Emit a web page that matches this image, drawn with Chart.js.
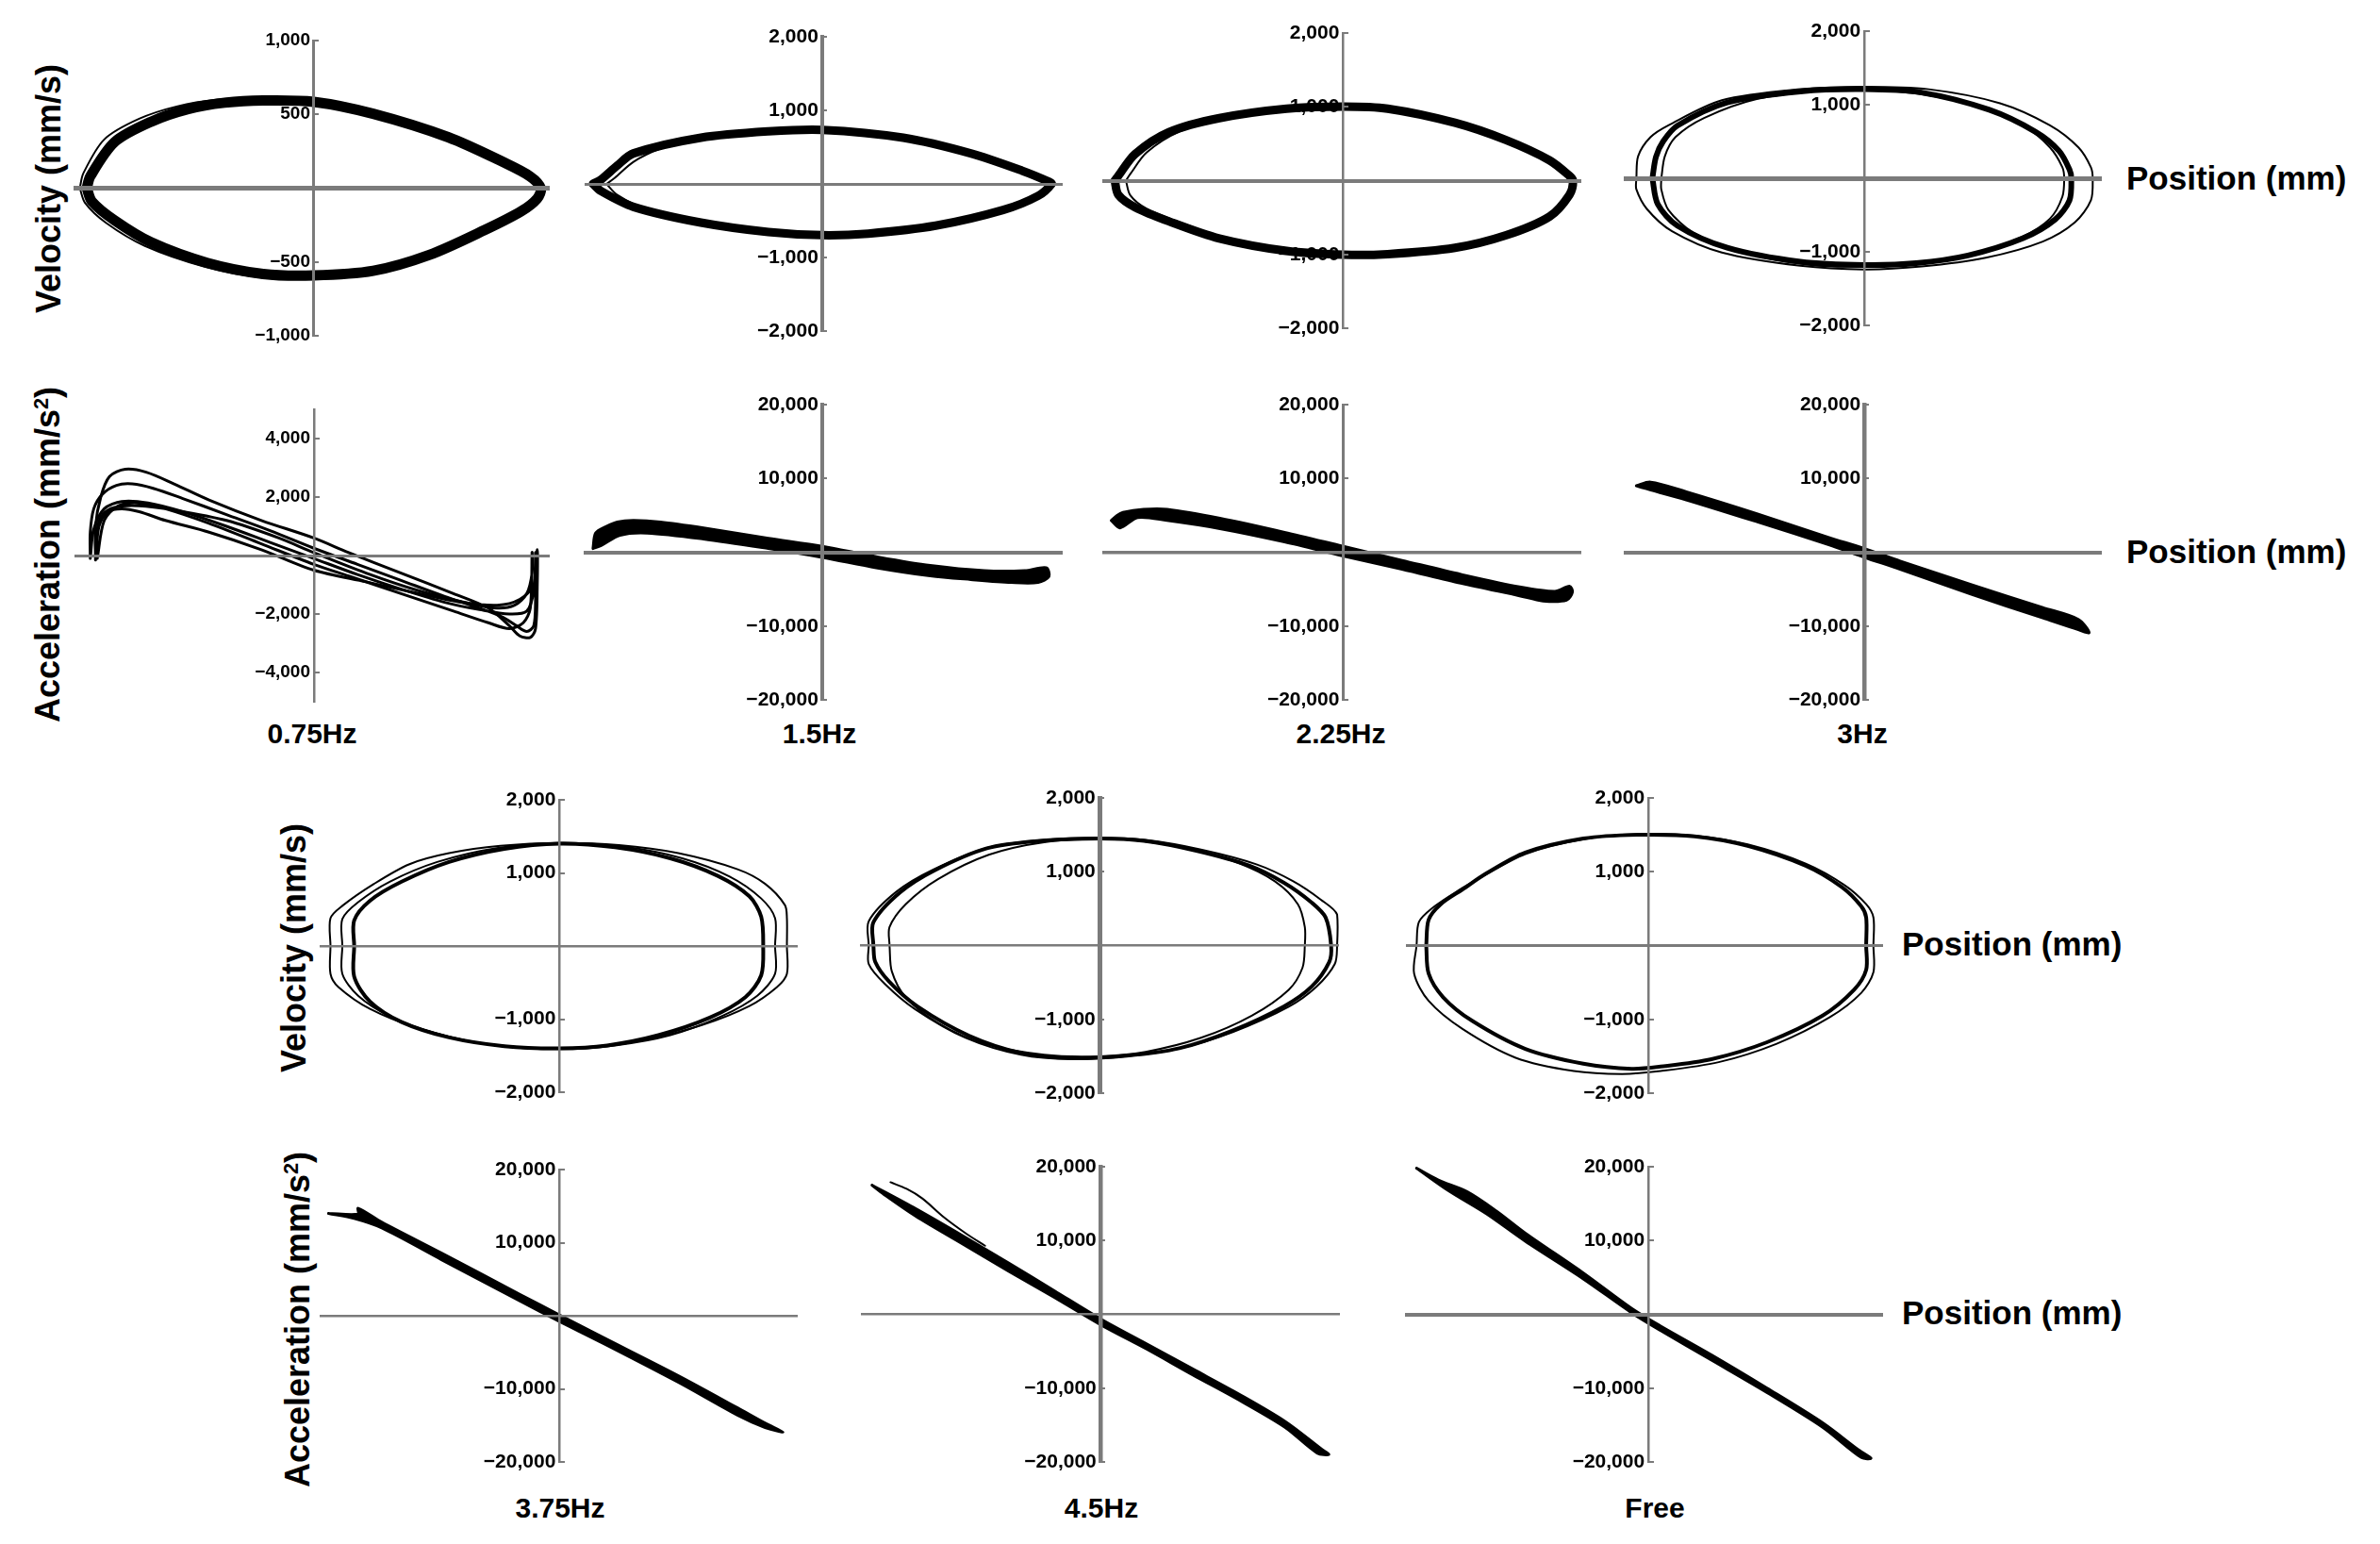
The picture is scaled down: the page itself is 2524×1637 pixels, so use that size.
<!DOCTYPE html>
<html>
<head>
<meta charset="utf-8">
<script src="https://cdn.jsdelivr.net/npm/chart.js@4.4.0/dist/chart.umd.min.js"></script>
<style>
  html, body { margin: 0; padding: 0; background: #fff; }
  body { position: relative; width: 2524px; height: 1637px; overflow: hidden;
         font-family: "Liberation Sans", Arial, sans-serif; }
  canvas { position: absolute; }
  .lbl { position: absolute; font-weight: bold; color: #000; white-space: nowrap; line-height: 1; }
  .ytitle { font-size: 36px; transform: translate(-50%, -50%) rotate(-90deg); }
  .pos { font-size: 35px; transform: translateY(-50%); }
  .freq { font-size: 30px; transform: translate(-50%, -50%); }
  sup { font-size: 60%; vertical-align: 0.55em; }
</style>
</head>
<body>

<div class="lbl ytitle" style="left:52px; top:200px;">Velocity (mm/s)</div>
<div class="lbl ytitle" style="left:51px; top:588px;">Acceleration (mm/s<sup>2</sup>)</div>
<div class="lbl ytitle" style="left:312px; top:1005px;">Velocity (mm/s)</div>
<div class="lbl ytitle" style="left:316px; top:1399px;">Acceleration (mm/s<sup>2</sup>)</div>

<div class="lbl pos" style="left:2255px; top:188px;">Position (mm)</div>
<div class="lbl pos" style="left:2255px; top:584px;">Position (mm)</div>
<div class="lbl pos" style="left:2017px; top:1000px;">Position (mm)</div>
<div class="lbl pos" style="left:2017px; top:1391px;">Position (mm)</div>

<div class="lbl freq" style="left:331px; top:778px;">0.75Hz</div>
<div class="lbl freq" style="left:869px; top:778px;">1.5Hz</div>
<div class="lbl freq" style="left:1422px; top:778px;">2.25Hz</div>
<div class="lbl freq" style="left:1975px; top:778px;">3Hz</div>
<div class="lbl freq" style="left:594px; top:1599px;">3.75Hz</div>
<div class="lbl freq" style="left:1168px; top:1599px;">4.5Hz</div>
<div class="lbl freq" style="left:1755px; top:1599px;">Free</div>

<script>
// ---------------- TICK LABELS ----------------
const velTicks075 = [-1000, -500, 500, 1000];
const accTicks075 = [-4000, -2000, 2000, 4000];
const velTicks = [-2000, -1000, 1000, 2000];
const accTicks = [-20000, -10000, 10000, 20000];

// position axis extent of each column (mm)
const posRange075 = [-136.5, 134.6];
const posRange150 = [-87.75, 88.75];
const posRange225 = [-81.4, 80.7];
const posRange300 = [-67, 66.3];
const posRange375 = [-60.5, 60];
const posRange450 = [-51.7, 51.7];
const posRangeFree = [-50, 48.3];

// ---------------- 0.75 Hz ----------------
const pos075VelA = [-130, -128, -114, -93, -72, -51, -29, 0, 34, 77, 109, 124, 130, 128, 119, 98, 66, 34, 0, -29, -61, -93, -114, -127, -130];
const vel075A = [0, 80, 313, 451, 536, 579, 594, 585, 504, 345, 174, 79, 0, -70, -155, -283, -453, -560, -591, -581, -506, -368, -219, -91, 0];
const pos075VelB = [-134, -132, -120, -100, -78, -55, -30, 0, 34, 77, 108, 123, 128, 126, 117, 96, 64, 32, 0, -30, -63, -97, -119, -131, -134];
const vel075B = [0, 100, 330, 470, 555, 600, 615, 605, 520, 360, 185, 85, 0, -80, -170, -300, -470, -580, -615, -605, -530, -390, -235, -100, 0];

const pos075AccA = [-128, -128, -126, -121, -113, -104, -92, -75, -50, -25, 0, 25, 50, 75, 95, 108, 116, 122, 126, 127, 127, 126, 122, 112, 95, 75, 50, 25, 0, -25, -50, -75, -95, -110, -120, -126, -128];
const acc075A = [-100, 800, 1600, 2100, 2400, 2450, 2300, 1950, 1400, 850, 250, -300, -850, -1400, -1800, -2100, -2400, -2600, -2400, -1500, 100, -1200, -1900, -2000, -1850, -1600, -1150, -650, -100, 450, 1000, 1500, 1800, 1850, 1600, 900, -100];
const pos075AccB = [-125, -125, -122, -117, -108, -96, -80, -60, -30, 0, 20, 50, 80, 100, 112, 118, 124, 127, 128, 128, 126, 118, 105, 85, 60, 30, 0, -30, -60, -85, -100, -110, -118, -123, -125];
const acc075B = [-150, 1000, 2000, 2700, 2950, 2850, 2450, 1900, 1200, 600, 100, -600, -1300, -1800, -2400, -2750, -2800, -2500, -1000, 200, -1000, -1500, -1700, -1600, -1300, -900, -500, 200, 800, 1200, 1500, 1600, 1500, 1000, -150];
const pos075AccC = [-124, -124, -121, -114, -100, -80, -50, -20, 0, 30, 60, 90, 105, 115, 122, 125, 125, 124, 120, 112, 100, 80, 50, 20, 0, -30, -60, -85, -100, -112, -120, -124];
const acc075C = [-100, 900, 1400, 1650, 1700, 1550, 1200, 600, 100, -600, -1200, -1650, -1800, -1700, -1300, -600, 100, -1800, -2300, -2500, -2300, -1900, -1300, -700, -300, 400, 1100, 1600, 1800, 1700, 1200, -100];

// ---------------- 1.5 Hz ----------------
const pos150VelA = [-85, -82, -76, -70, -45, -20, 0, 30, 55, 74, 84, 85, 80, 67, 42, 17, 0, -20, -45, -70, -82, -85];
const vel150A = [0, 60, 250, 415, 628, 714, 735, 628, 415, 180, 30, 0, -162, -355, -568, -675, -697, -654, -526, -312, -98, 0];
const pos150VelB = [-80, -77, -70, -60, -45, -20, 0, 30, 55, 74, 84, 85, 80, 67, 42, 17, 0, -20, -45, -65, -76, -80];
const vel150B = [0, 80, 300, 480, 640, 730, 745, 640, 420, 180, 30, 0, -170, -370, -585, -690, -710, -665, -530, -350, -150, 0];

const pos150Acc = [-85, -84, -80, -76, -70, -60, -44, -20, 0, 20, 40, 60, 75, 83, 84, 80, 70, 55, 40, 20, 0, -20, -44, -65, -75, -82, -85];
const acc150 = [500, 2600, 3500, 4100, 4300, 4100, 3300, 1900, 800, -600, -1800, -2500, -2500, -2100, -3300, -4100, -4100, -3700, -3200, -2100, -700, 500, 1800, 2600, 2300, 900, 500];

// ---------------- 2.25 Hz ----------------
const pos225VelA = [-77.8, -76.6, -70.9, -59.4, -42.2, -19.3, 0, 15.1, 38, 55.3, 70.2, 77, 78.2, 77, 70.2, 55.3, 38, 15.1, 0, -19.3, -42.2, -59.4, -70.9, -76.6, -77.8];
const vel225A = [0, 64, 360, 657, 847, 975, 1004, 975, 784, 551, 275, 64, 0, -191, -487, -742, -911, -996, -1004, -953, -784, -551, -360, -191, 0];
const pos225VelB = [-74, -72.5, -67, -56, -40, -18, 0, 15, 38, 55, 70, 76.5, 77.5, 76.5, 70, 55, 38, 15, 0, -18, -40, -56, -67, -72.5, -74];
const vel225B = [0, 90, 380, 660, 850, 975, 1000, 970, 780, 545, 270, 60, 0, -180, -480, -735, -905, -990, -1000, -950, -780, -560, -380, -200, 0];

const pos225Acc = [-79, -77, -75, -68, -60, -42, -20, 0, 20, 40, 60, 72, 77, 78, 76, 68, 60, 40, 20, 0, -20, -42, -60, -70, -76, -79];
const acc225 = [4300, 5000, 5400, 5800, 5800, 4600, 2700, 800, -1100, -3000, -4700, -5300, -4600, -5400, -6500, -6600, -5900, -4200, -2300, -500, 1400, 3200, 4300, 4700, 3300, 4300];

// ---------------- 3 Hz ----------------
const pos300VelA = [-59.5, -58.5, -56.5, -52.5, -38.5, -18, 0, 16, 35, 48, 54.5, 57.5, 58, 57.5, 53.5, 44.5, 29, 14.5, 0, -18, -38.5, -52.5, -58, -59.5];
const vel300A = [0, 290, 500, 715, 1030, 1180, 1210, 1165, 930, 630, 375, 120, 0, -300, -560, -815, -1050, -1155, -1180, -1135, -945, -645, -350, 0];
const pos300VelB = [-64, -63.5, -60, -55, -40, -18, 0, 18, 38, 52, 60, 63.5, 64, 63.5, 59, 50, 34, 16, 0, -18, -40, -54, -61, -64, -64];
const vel300B = [0, 300, 560, 720, 1060, 1210, 1245, 1210, 1020, 720, 420, 150, 0, -300, -600, -860, -1080, -1200, -1240, -1190, -1010, -720, -420, -150, 0];
const pos300VelC = [-57, -56, -53, -45, -30, -12, 0, 15, 33, 45, 52, 55.5, 56, 55.5, 52, 44, 30, 15, 0, -15, -35, -48, -55, -57, -57];
const vel300C = [0, 300, 560, 820, 1080, 1190, 1200, 1150, 960, 700, 420, 150, 0, -250, -550, -800, -1030, -1150, -1200, -1180, -1000, -740, -430, -150, 0];

const pos300Acc = [-64, -60, -50, -30, -10, 0, 10, 30, 50, 60, 63, 60, 50, 30, 10, 0, -10, -30, -50, -62, -64];
const acc300 = [9000, 9500, 8200, 5200, 2000, 500, -1200, -4400, -7500, -9100, -10900, -10500, -8900, -5700, -2300, -700, 1000, 4100, 7100, 8700, 9000];

// ---------------- 3.75 Hz ----------------
const pos375VelA = [-52, -52, -48, -40, -28, -14, 0, 14, 28, 40, 48, 51, 51.5, 51, 47, 38, 25, 12, 0, -14, -28, -40, -48, -52, -52];
const vel375A = [0, 350, 620, 880, 1150, 1330, 1400, 1350, 1200, 960, 680, 400, 0, -400, -700, -980, -1220, -1360, -1400, -1370, -1250, -1040, -760, -420, 0];
const pos375VelB = [-55, -55, -51, -43, -31, -16, 0, 16, 31, 43, 51, 54.5, 54.5, 54.5, 50, 41, 28, 14, 0, -16, -31, -43, -51, -55, -55];
const vel375B = [0, 370, 600, 880, 1150, 1340, 1410, 1360, 1200, 950, 650, 380, 0, -380, -680, -960, -1220, -1360, -1410, -1360, -1200, -960, -680, -380, 0];
const pos375VelC = [-58, -58, -55, -47, -38, -28, -15, 0, 15, 30, 45, 52, 57, 57.5, 57.5, 57.5, 55, 48, 36, 20, 0, -20, -36, -48, -56, -58, -58];
const vel375C = [0, 380, 550, 850, 1120, 1270, 1370, 1410, 1380, 1270, 1050, 850, 560, 380, 0, -380, -560, -820, -1080, -1300, -1400, -1330, -1120, -860, -560, -380, 0];

const pos375Acc = [-58.5, -51, -51, -45, -30, -10, 0, 10, 30, 45, 52, 56.5, 52, 45, 30, 10, 0, -10, -30, -45, -52, -58.5];
const acc375 = [14000, 13900, 14700, 12800, 8600, 2900, 100, -2700, -8200, -12600, -14700, -15900, -15300, -13600, -9100, -3500, -800, 2000, 7700, 12000, 13300, 14000];

// ---------------- 4.5 Hz ----------------
const pos450VelA = [-49, -49, -43.3, -35.8, -24.4, -13, 0, 9.7, 21, 32.4, 40, 46, 49, 50.2, 49.8, 46, 40, 28.6, 17.3, 5.9, -5.5, -16.8, -28.2, -39.5, -45.6, -48.6, -49];
const vel450A = [0, 314, 716, 1017, 1318, 1418, 1450, 1418, 1284, 1084, 850, 582, 381, 0, -221, -555, -823, -1157, -1391, -1492, -1525, -1458, -1224, -823, -488, -221, 0];
const pos450VelB = [-50, -50, -44, -36, -24, -12, 0, 10, 22, 34, 42, 48, 51.5, 51.5, 51, 47, 41, 29, 17, 6, -6, -17, -29, -40, -46.5, -50, -50];
const vel450B = [0, 330, 730, 1030, 1330, 1430, 1460, 1430, 1300, 1100, 870, 620, 420, 0, -250, -560, -830, -1170, -1400, -1500, -1540, -1480, -1250, -860, -520, -250, 0];
const pos450VelC = [-45.5, -45.5, -42, -35, -24, -12, 0, 10, 20, 30, 38, 43, 44.5, 44.5, 44, 41, 33, 22, 10, 0, -12, -25, -35, -42, -45, -45.5];
const vel450C = [0, 250, 560, 900, 1230, 1400, 1440, 1410, 1300, 1120, 870, 560, 250, 0, -300, -600, -950, -1250, -1440, -1500, -1480, -1330, -1050, -700, -350, 0];

const pos450Acc = [-49.5, -40, -30, -20, -10, 0, 10, 20, 30, 40, 48, 49.5, 47, 40, 30, 20, 10, 0, -10, -20, -30, -40, -47, -49.5];
const acc450 = [17500, 14300, 10700, 7000, 3200, -600, -4000, -7400, -10800, -14500, -18300, -19000, -18800, -15300, -11600, -8200, -4700, -1400, 2300, 5900, 9600, 13300, 16300, 17500];
const pos450Bump = [-45.5, -42, -38.6, -34, -29, -25];
const acc450Bump = [17900, 17000, 15700, 13200, 10900, 9300];

// ---------------- Free ----------------
const posFreeVelA = [-46, -45.5, -43, -38.5, -33.5, -25.5, -13.5, -2.5, 9.5, 20.5, 32.5, 40, 44, 45, 45, 45, 42.5, 36, 24.5, 13, 2.5, -3.5, -13.5, -25.5, -36.5, -42.5, -45.5, -46];
const velFreeA = [0, 350, 560, 760, 980, 1260, 1450, 1500, 1480, 1350, 1080, 790, 530, 380, 0, -330, -600, -950, -1310, -1540, -1640, -1670, -1600, -1400, -1020, -700, -380, 0];
const posFreeVelB = [-48, -47.5, -44.5, -39.5, -34.5, -25.5, -13.5, -2.5, 9.5, 20.5, 32.5, 40.5, 45, 46.5, 46.5, 46.5, 44, 37.5, 26.5, 14.5, 2.5, -5.5, -15.5, -27.5, -38.5, -45.5, -48.5, -48];
const velFreeB = [0, 320, 520, 740, 930, 1240, 1440, 1510, 1490, 1370, 1110, 820, 560, 380, 0, -360, -640, -970, -1330, -1580, -1700, -1740, -1700, -1520, -1130, -750, -380, 0];

const posFreeAcc = [-48, -43.5, -37.5, -31.5, -25.5, -13.5, -3.5, 2.5, 13, 24.5, 36, 43.5, 46, 44, 36, 24.5, 13, 2.5, -3.5, -13.5, -25.5, -33.5, -41.5, -48];
const accFree = [19800, 18200, 16600, 14000, 11000, 5600, 800, -1600, -5500, -10000, -14700, -18400, -19500, -19400, -15300, -10600, -6200, -2200, 200, 4800, 9900, 13600, 16800, 19800];


// ---------------- PANELS ----------------
// box = chart area [left, top, right, bottom] in page px, axW = [x line, y line]
// loop = [positions, values, line width, filled band?]
const PAD = 20;
const GRAY = '#7b7b7b';

const panels = [
    { box: [80, 43, 582, 356], xRange: posRange075, yRange: [-1000, 1000], ticks: velTicks075, fs: 19, axW: [5, 3],
      loops: [[pos075VelA, vel075A, 11], [pos075VelB, vel075B, 2]] },
    { box: [621, 39, 1126, 351], xRange: posRange150, yRange: [-2000, 2000], ticks: velTicks, fs: 21, axW: [3, 4],
      loops: [[pos150VelA, vel150A, 9], [pos150VelB, vel150B, 2]] },
    { box: [1171, 35, 1676, 348], xRange: posRange225, yRange: [-2000, 2000], ticks: velTicks, fs: 21, axW: [4, 2.5],
      loops: [[pos225VelA, vel225A, 9], [pos225VelB, vel225B, 2]] },
    { box: [1724, 33, 2228, 345], xRange: posRange300, yRange: [-2000, 2000], ticks: velTicks, fs: 21, axW: [5, 2.5],
      loops: [[pos300VelA, vel300A, 6], [pos300VelB, vel300B, 2], [pos300VelC, vel300C, 2]] },

    { box: [80, 434, 582, 744], xRange: posRange075, yRange: [-5000, 5000], ticks: accTicks075, fs: 19, axW: [3, 2.5],
      loops: [[pos075AccA, acc075A, 3], [pos075AccB, acc075B, 3], [pos075AccC, acc075C, 3]] },
    { box: [621, 429, 1126, 742], xRange: posRange150, yRange: [-20000, 20000], ticks: accTicks, fs: 21, axW: [4, 4],
      loops: [[pos150Acc, acc150, 3, true]] },
    { box: [1171, 429, 1676, 742], xRange: posRange225, yRange: [-20000, 20000], ticks: accTicks, fs: 21, axW: [3.5, 3],
      loops: [[pos225Acc, acc225, 3, true]] },
    { box: [1724, 429, 2228, 742], xRange: posRange300, yRange: [-20000, 20000], ticks: accTicks, fs: 21, axW: [4, 4.5],
      loops: [[pos300Acc, acc300, 3, true]] },

    { box: [340, 848, 845, 1158], xRange: posRange375, yRange: [-2000, 2000], ticks: velTicks, fs: 21, axW: [2.5, 2.5],
      loops: [[pos375VelA, vel375A, 4], [pos375VelB, vel375B, 2], [pos375VelC, vel375C, 2]] },
    { box: [913, 846, 1419, 1159], xRange: posRange450, yRange: [-2000, 2000], ticks: velTicks, fs: 21, axW: [2.5, 5],
      loops: [[pos450VelA, vel450A, 4], [pos450VelB, vel450B, 2], [pos450VelC, vel450C, 2]] },
    { box: [1492, 846, 1996, 1159], xRange: posRangeFree, yRange: [-2000, 2000], ticks: velTicks, fs: 21, axW: [3, 2.5],
      loops: [[posFreeVelA, velFreeA, 4], [posFreeVelB, velFreeB, 2]] },

    { box: [340, 1240, 845, 1550], xRange: posRange375, yRange: [-20000, 20000], ticks: accTicks, fs: 21, axW: [2.5, 2.5],
      loops: [[pos375Acc, acc375, 3, true]] },
    { box: [914, 1237, 1420, 1550], xRange: posRange450, yRange: [-20000, 20000], ticks: accTicks, fs: 21, axW: [2.5, 4.5],
      loops: [[pos450Acc, acc450, 3, true], [pos450Bump, acc450Bump, 2]] },
    { box: [1492, 1237, 1996, 1550], xRange: posRangeFree, yRange: [-20000, 20000], ticks: accTicks, fs: 21, axW: [4, 2.5],
      loops: [[posFreeAcc, accFree, 3, true]] }
];

// "−1,000" style labels, with a thin gap before the axis line
function fmt(v) {
    return v.toLocaleString('en-US').replace('-', '\u2212') + '\u2009';
}

function makeLoop(xs, ys, w, filled) {
    return {
        data: xs.map((x, i) => ({ x: x, y: ys[i] })),
        showLine: true,
        borderColor: '#000',
        backgroundColor: '#000',
        fill: filled ? 'shape' : false,
        borderWidth: w,
        pointRadius: 0,
        tension: 0.3,
        borderJoinStyle: 'round',
        borderCapStyle: 'round',
        clip: false
    };
}

function drawPanel(p) {
    const [L, T, R, B] = p.box;
    const c = document.createElement('canvas');
    c.width = R - L + 2 * PAD;
    c.height = B - T + 2 * PAD;
    c.style.left = (L - PAD) + 'px';
    c.style.top = (T - PAD) + 'px';
    c.style.width = c.width + 'px';
    c.style.height = c.height + 'px';
    document.body.appendChild(c);

    new Chart(c, {
        type: 'scatter',
        data: { datasets: p.loops.map(l => makeLoop(l[0], l[1], l[2], l[3])) },
        options: {
            responsive: false,
            animation: false,
            devicePixelRatio: 1,
            layout: { padding: PAD },
            plugins: { legend: { display: false }, tooltip: { enabled: false } },
            scales: {
                x: {
                    type: 'linear', min: p.xRange[0], max: p.xRange[1],
                    position: { y: 0 },
                    ticks: { display: false },
                    grid: { display: false },
                    border: { display: true, color: GRAY, width: p.axW[0], z: 1 }
                },
                y: {
                    type: 'linear', min: p.yRange[0], max: p.yRange[1],
                    position: { x: 0 },
                    afterBuildTicks: s => { s.ticks = p.ticks.map(v => ({ value: v })); },
                    ticks: {
                        color: '#000', autoSkip: false, z: 1,
                        font: { family: '"Liberation Sans", Arial, sans-serif', weight: 'bold', size: p.fs },
                        callback: v => fmt(v)
                    },
                    grid: { drawOnChartArea: false, drawTicks: true, tickLength: -7, color: GRAY, lineWidth: 2, z: 1 },
                    border: { display: true, color: GRAY, width: p.axW[1], z: 1 }
                }
            }
        }
    });
}

panels.forEach(drawPanel);
</script>
</body>
</html>
